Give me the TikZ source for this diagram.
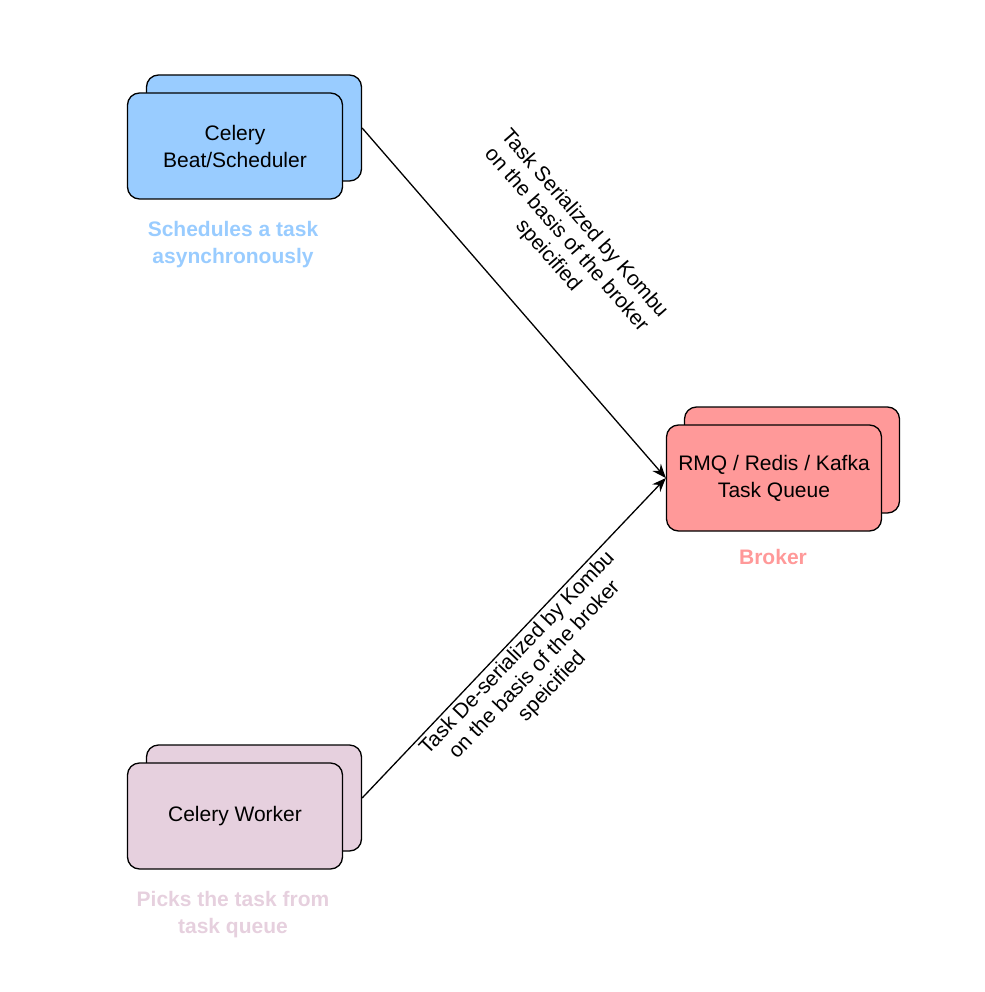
\documentclass[tikz,border=0pt]{standalone}
\usepackage{fontspec}
\setmainfont{Liberation Sans}
\usetikzlibrary{arrows.meta}
\definecolor{cblue}{HTML}{99CCFF}
\definecolor{cred}{HTML}{FF9999}
\definecolor{cpink}{HTML}{E6D0DE}
\begin{document}
\begin{tikzpicture}[x=1pt,y=-1pt,
  box/.style={draw=black,line width=1.3pt,rounded corners=12pt,minimum width=215pt,minimum height=106pt,inner sep=0pt,align=center,font=\fontsize{21}{27}\selectfont},
  note/.style={font=\bfseries\fontsize{21}{27}\selectfont,align=center},
  lbl/.style={font=\fontsize{21}{24}\selectfont,align=center},
  arr/.style={-{Stealth[length=14pt,width=11pt]},line width=1.3pt}]
\useasboundingbox (0,0) rectangle (984,992);
\node[box,fill=cblue] (beatb) at (254,128) {};
\node[box,fill=cblue] (beat) at (235,146) {Celery\\Beat/Scheduler};
\node[note,text=cblue] (beatl) at (233,245) {Schedules a task\\asynchronously};
\node[box,fill=cred] (brokb) at (792,460) {};
\node[box,fill=cred] (brok) at (774,478) {RMQ / Redis / Kafka\\Task Queue};
\node[note,text=cred] (brokl) at (773,557) {Broker};
\node[box,fill=cpink] (workb) at (254,798) {};
\node[box,fill=cpink] (work) at (235,816) {Celery Worker};
\node[note,text=cpink] (workl) at (233,915) {Picks the task from\\task queue};
\draw[arr] (beatb.east) -- (brok.west);
\draw[arr] (workb.east) -- (brok.west);
\node[lbl,rotate=-48.8] (l1) at (566,240) {Task Serialized by Kombu\\on the basis of the broker\\speicified};
\node[lbl,rotate=46.4] (l2) at (535,670) {Task De-serialized by Kombu\\on the basis of the broker\\speicified};
\end{tikzpicture}
\end{document}
